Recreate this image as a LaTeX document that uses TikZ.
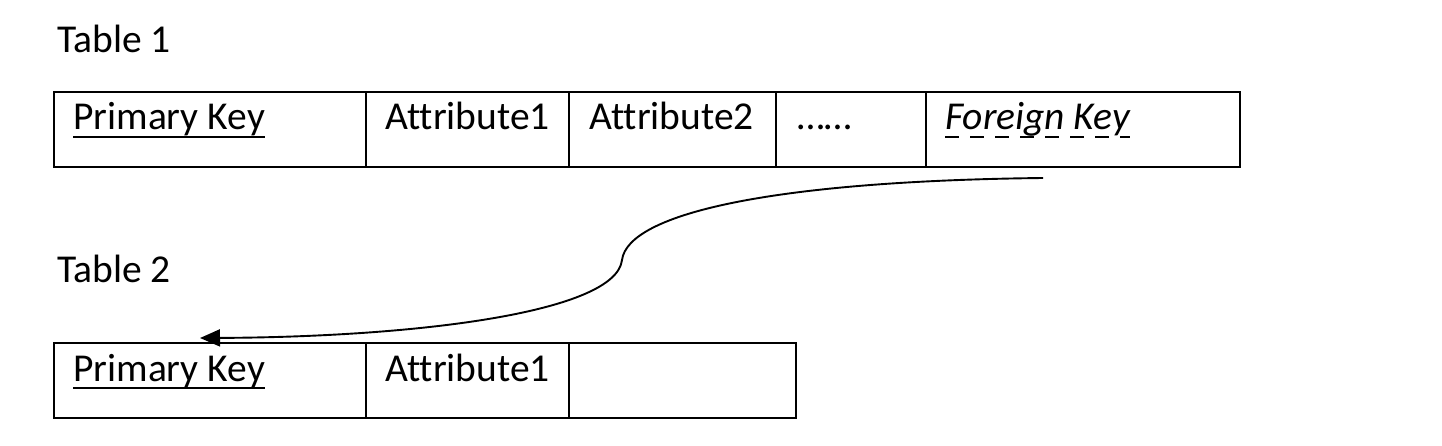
\documentclass[tikz,border=0pt]{standalone}
\usepackage{fontspec}
\setmainfont[Ligatures=NoCommon]{Carlito}
\usetikzlibrary{arrows.meta}
\begin{document}
\begin{tikzpicture}[x=1pt,y=-1pt,
  cell/.style={draw,line width=2.3pt,anchor=north west,inner sep=0pt,minimum height=75pt},
  txt/.style={anchor=base west,inner sep=0pt,font=\fontsize{39.5}{47}\selectfont},
  uline/.style={line width=2pt},
  conn/.style={line width=1.9pt,-{Triangle[length=20pt,width=17pt]}}]
\useasboundingbox (0,0) rectangle (1442,446);
% titles
\node[txt] (t1) at (57,53) {Table 1};
\node[txt] (t2) at (57,283) {Table 2};
% table 1 cells
\node[cell,minimum width=312pt] (a1) at (53,91) {};
\node[cell,minimum width=203pt] (a2) at (365,91) {};
\node[cell,minimum width=207pt] (a3) at (568,91) {};
\node[cell,minimum width=150pt] (a4) at (775,91) {};
\node[cell,minimum width=314pt] (a5) at (925,91) {};
% table 2 cells
\node[cell,minimum width=312pt] (b1) at (53,342) {};
\node[cell,minimum width=203pt] (b2) at (365,342) {};
\node[cell,minimum width=227pt] (b3) at (568,342) {};
% table 1 texts
\node[txt] (pk1) at (73,130) {Primary Key};
\node[txt] (at11) at (385,130) {Attribute1};
\node[txt] (at12) at (589,130) {Attribute2};
\node[txt] (dots) at (797,130) {……};
\node[txt] (fk) at (945,130) {\itshape Foreign Key};
% table 2 texts
\node[txt] (pk2) at (73,381) {Primary Key};
\node[txt] (at21) at (385,381) {Attribute1};
% underlines
\draw[uline] ([yshift=-7pt]pk1.base west) -- ([yshift=-7pt]pk1.base east);
\draw[uline] ([yshift=-7pt]pk2.base west) -- ([yshift=-7pt]pk2.base east);
\draw[uline,dash pattern=on 14pt off 11pt] ([yshift=-7pt]fk.base west) -- ([yshift=-7pt]fk.base east);
% connector
\coordinate (fkend) at (1043,178);
\coordinate (pktarget) at (200,338);
\draw[conn] (fkend) .. controls (770,181) and (628,214) .. (622,260)
  .. controls (616,312) and (420,337) .. (pktarget);
\end{tikzpicture}
\end{document}
